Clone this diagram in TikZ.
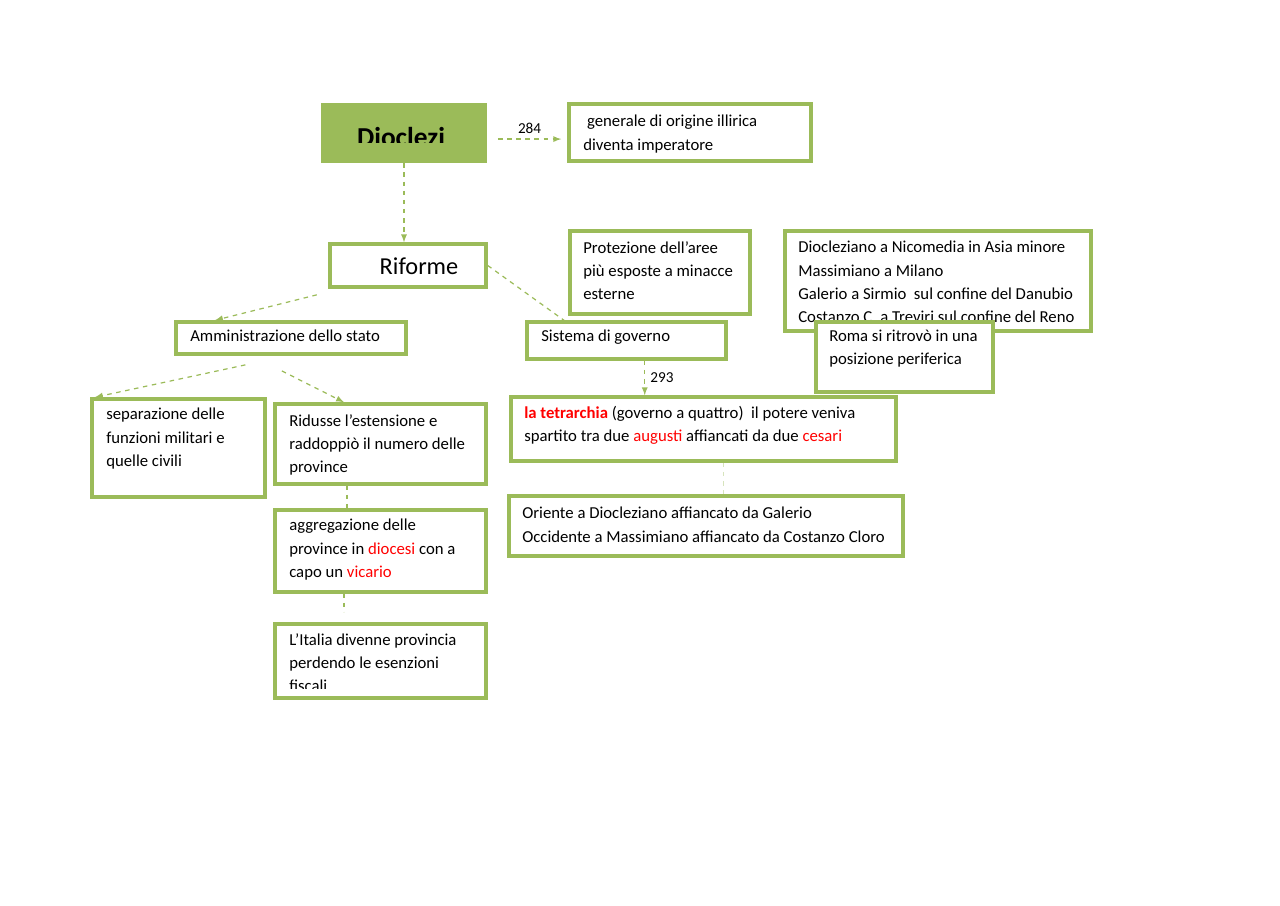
\documentclass[tikz,border=0pt]{standalone}
\usepackage{fontspec}
\setmainfont{Carlito}
\usetikzlibrary{fit}
\definecolor{verde}{HTML}{9BBB59}
\begin{document}
\begin{tikzpicture}[x=0.658pt, y=-0.658pt]
	\tikzset{cadre/.style={draw=verde, line width=2.3pt, inner sep=0pt}, testo/.style={anchor=north west, inner sep=0pt, align=left, font=\fontsize{11}{15.2}\selectfont}, freccia/.style={draw=verde, dashed, line width=0.8pt, -latex}, linea/.style={draw=verde, dashed, line width=0.8pt}};

	\useasboundingbox (0,0) rectangle (1280,905);

	% testi
	\node[testo] (tgen) at (583,115) {\ generale di origine illirica\\diventa imperatore};
	\node[testo] (tprot) at (583,241) {Protezione dell’aree\\più esposte a minacce\\esterne};
	\node[testo] (tcitta) at (798,241) {Diocleziano a Nicomedia in Asia minore\\Massimiano a Milano\\Galerio a Sirmio\ \ sul confine del Danubio\\Costanzo C. a Treviri sul confine del Reno};
	\node[testo] (tamm) at (190,330) {Amministrazione dello stato};
	\node[testo] (tsist) at (541,330) {Sistema di governo};
	\node[testo] (tsep) at (106,408) {separazione delle\\funzioni militari e\\quelle civili};
	\node[testo] (trid) at (289,414) {Ridusse l’estensione e\\raddoppiò il numero delle\\province};
	\node[testo] (ttetr) at (524,406) {\textcolor{red}{\textbf{la tetrarchia}} (governo a quattro)\ \ il potere veniva\\spartito tra due \textcolor{red}{augusti} affiancati da due \textcolor{red}{cesari}};
	\node[testo] (tori) at (522,507) {Oriente a Diocleziano affiancato da Galerio\\Occidente a Massimiano affiancato da Costanzo Cloro};
	\node[testo] (taggr) at (289,519) {aggregazione delle\\province in \textcolor{red}{diocesi} con a\\capo un \textcolor{red}{vicario}};
	\node[testo] (tital) at (289,633) {L’Italia divenne provincia\\perdendo le esenzioni\\fiscali};

	% testo tagliato
	\fill[white] (790,323) rectangle (1088,329);
	\fill[white] (279,689) rectangle (482,696);

	% riquadri
	\node[fill=verde, inner sep=0pt, fit={(321,103) (487,163)}] (diocl) {};
	\node[font=\fontsize{18}{18}\bfseries\selectfont, inner sep=0pt] (tdiocl) at (401,137) {Dioclezi};
	\fill[verde] (340,143) rectangle (470,160);
	\node[cadre, fit={(569,104) (811,161)}] (gen) {};
	\node[cadre, fit={(330,244) (486,287)}] (rif) {};
	\node[font=\fontsize{16}{16}\selectfont, inner sep=0pt] (trif) at (419,266) {Riforme};
	\node[cadre, fit={(570,231) (750,314)}] (prot) {};
	\node[cadre, fit={(785,231) (1091,331)}] (citta) {};
	\node[cadre, fill=white, fit={(816,322) (993,392)}] (roma) {};
	\node[testo] (troma) at (829,330) {Roma si ritrovò in una\\posizione periferica};
	\node[cadre, fit={(176,322) (406,354)}] (amm) {};
	\node[cadre, fit={(527,322) (726,359)}] (sist) {};
	\node[cadre, fit={(92,399) (265,497)}] (sep) {};
	\node[cadre, fit={(275,404) (486,484)}] (rid) {};
	\node[cadre, fit={(511,397) (896,461)}] (tetr) {};
	\node[cadre, fit={(509,496) (903,556)}] (ori) {};
	\node[cadre, fit={(275,510) (486,592)}] (aggr) {};
	\node[cadre, fit={(275,624) (486,698)}] (ital) {};

	% collegamenti
	\draw[freccia] ([xshift=7pt, yshift=-4pt]diocl.east) -- ([xshift=-4pt, yshift=-4pt]gen.west |- diocl.east) node[midway, above, black, font=\fontsize{10}{10}\selectfont] {284};
	\draw[freccia] (diocl.south) -- (rif.north -| diocl.south);
	\draw[freccia] ([xshift=-60pt, yshift=-4pt]rif.south) -- ([xshift=-50pt]amm.north);
	\draw[linea] (rif.east) -- ([yshift=-5pt]prot.south west);
	\draw[freccia] ([xshift=-30pt, yshift=-6pt]amm.south) -- ([xshift=-55pt]sep.north);
	\draw[freccia] ([xshift=-6pt, yshift=-10pt]amm.south) -- ([xshift=-24pt]rid.north);
	\draw[freccia] ([xshift=12pt]sist.south) -- ([xshift=12pt]sist.south |- tetr.north) node[midway, right, black, font=\fontsize{10}{10}\selectfont] {293};
	\draw[linea, verde!40] ([xshift=13pt]tetr.south) -- ([xshift=13pt]tetr.south |- ori.north);
	\draw[linea] ([xshift=-22pt]rid.south) -- ([xshift=-22pt]aggr.north);
	\draw[linea] ([xshift=-24pt]aggr.south) -- ([xshift=-24pt, yshift=-12pt]aggr.south);
\end{tikzpicture}
\end{document}
